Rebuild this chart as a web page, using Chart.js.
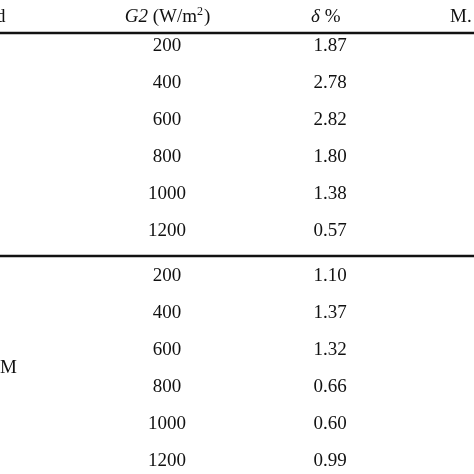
<!DOCTYPE html>
<html><head><meta charset="utf-8">
<script src="https://cdn.jsdelivr.net/npm/chart.js@4"></script>
<style>html,body{margin:0;padding:0;background:#fff}#c{width:474px;height:474px}</style>
</head><body><div id="c"><canvas id="cv" width="474" height="474"></canvas></div>
<script>
const irradiance = [200, 400, 600, 800, 1000, 1200];
const deltaGroup1 = ["1.87", "2.78", "2.82", "1.80", "1.38", "0.57"];
const deltaGroup2 = ["1.10", "1.37", "1.32", "0.66", "0.60", "0.99"];
const headers = ["d", "G2 (W/m²)", "δ %", "M."];

const tablePlugin = {
  id: 'table',
  afterDraw(chart) {
    const ctx = chart.ctx, xs = chart.scales.x, ys = chart.scales.y;
    const X = v => xs.getPixelForValue(v), Y = v => ys.getPixelForValue(v);
    ctx.save();
    ctx.fillStyle = '#111'; ctx.strokeStyle = '#111';
    ctx.font = '19px "Liberation Serif"';
    ctx.textBaseline = 'middle';
    // header
    ctx.textAlign = 'left'; ctx.fillText(headers[0], X(-4), Y(17));
    ctx.textAlign = 'center';
    ctx.font = 'italic 19px "Liberation Serif"';
    const w1 = ctx.measureText('G2').width;
    ctx.font = '19px "Liberation Serif"';
    const w2 = ctx.measureText(' (W/m)').width;
    const w3 = 8;
    let sx = X(168) - (w1 + w2 + w3) / 2;
    ctx.textAlign = 'left';
    ctx.font = 'italic 19px "Liberation Serif"'; ctx.fillText('G2', sx, Y(17));
    ctx.font = '19px "Liberation Serif"'; ctx.fillText(' (W/m', sx + w1, Y(17));
    const mw = ctx.measureText(' (W/m').width;
    ctx.font = '12px "Liberation Serif"'; ctx.fillText('2', sx + w1 + mw, Y(12));
    ctx.font = '19px "Liberation Serif"'; ctx.fillText(')', sx + w1 + mw + 7, Y(17));
    ctx.font = 'italic 19px "Liberation Serif"'; ctx.fillText('δ', X(311), Y(17));
    ctx.font = '19px "Liberation Serif"'; ctx.fillText(' %', X(320), Y(17));
    ctx.fillText(headers[3], X(450), Y(17));
    // lines
    ctx.lineWidth = 2.5;
    ctx.beginPath(); ctx.moveTo(X(0), Y(33)); ctx.lineTo(X(474), Y(33)); ctx.stroke();
    ctx.beginPath(); ctx.moveTo(X(0), Y(256)); ctx.lineTo(X(474), Y(256)); ctx.stroke();
    ctx.textAlign = 'center';
    irradiance.forEach((g, i) => {
      ctx.fillText(String(g), X(167), Y(46 + 37 * i));
      ctx.fillText(deltaGroup1[i], X(330), Y(46 + 37 * i));
      ctx.fillText(String(g), X(167), Y(276 + 37 * i));
      ctx.fillText(deltaGroup2[i], X(330), Y(276 + 37 * i));
    });
    ctx.textAlign = 'left'; ctx.fillText('M', X(0), Y(368));
    ctx.restore();
  }
};

new Chart(document.getElementById('cv'), {
  type: 'scatter',
  data: { datasets: [{ data: [] }] },
  options: {
    responsive: false, animation: false,
    layout: { padding: 0 },
    plugins: { legend: { display: false }, tooltip: { enabled: false } },
    scales: {
      x: { type: 'linear', min: 0, max: 474, display: false },
      y: { type: 'linear', min: 0, max: 474, reverse: true, display: false }
    }
  },
  plugins: [tablePlugin]
});
</script></body></html>
